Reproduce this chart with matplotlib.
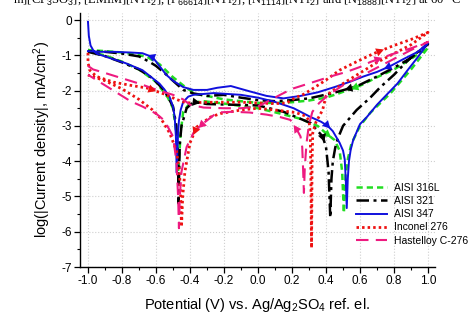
import matplotlib
matplotlib.use("Agg")
import matplotlib.pyplot as plt
from matplotlib.ticker import MultipleLocator, FormatStrFormatter

plt.rcParams['font.family'] = ['Liberation Sans', 'DejaVu Sans']
plt.rcParams['mathtext.fontset'] = 'custom'
plt.rcParams['mathtext.rm'] = 'Liberation Sans'
plt.rcParams['mathtext.it'] = 'Liberation Sans:italic'
plt.rcParams['axes.unicode_minus'] = False

# ---------------- data (potential V, log|i| mA/cm2), traced as scan loops ----------------
labels = ["AISI 316L", "AISI 321", "AISI 347", "Inconel 276", "Hastelloy C-276"]

e_316l = [-1.0, -0.95, -0.9, -0.8, -0.7, -0.6, -0.53, -0.5, -0.48, -0.472, -0.468, -0.464, -0.455, -0.44,
          -0.4, -0.32, -0.18, 0.0, 0.13, 0.25, 0.35, 0.41, 0.45, 0.48, 0.495, 0.505, 0.515, 0.53, 0.55, 0.6,
          0.66, 0.72, 0.78, 0.9, 1.0,
          0.9, 0.8, 0.7, 0.61, 0.48, 0.4, 0.3, 0.2, 0.1, 0.0, -0.1, -0.2, -0.28, -0.36, -0.42, -0.5, -0.58,
          -0.65, -0.72, -0.8, -0.9, -1.0]
logi_316l = [-0.87, -0.95, -1.0, -1.18, -1.4, -1.75, -2.2, -2.5, -3.2, -3.9, -4.45, -3.9, -3.2, -2.6,
             -2.35, -2.3, -2.38, -2.5, -2.65, -2.8, -3.0, -3.25, -3.4, -3.7, -4.3, -5.47, -4.4, -3.9, -3.5, -3.0,
             -2.63, -2.35, -2.07, -1.4, -0.78,
             -1.1, -1.4, -1.62, -1.84, -2.07, -2.2, -2.28, -2.33, -2.35, -2.35, -2.3, -2.25, -2.17, -2.1, -1.93,
             -1.62, -1.25, -1.05, -0.97, -0.92, -0.88, -0.85]

e_321 = [-1.0, -0.9, -0.8, -0.7, -0.62, -0.55, -0.5, -0.48, -0.47, -0.467, -0.464, -0.46, -0.45, -0.42,
         -0.38, -0.3, -0.15, 0.0, 0.15, 0.31, 0.38, 0.40, 0.415, 0.425, 0.432, 0.44, 0.455, 0.47, 0.5, 0.58,
         0.66, 0.72, 0.8, 0.88, 1.0,
         0.88, 0.8, 0.7, 0.58, 0.44, 0.3, 0.2, 0.1, 0.0, -0.1, -0.2, -0.3, -0.38, -0.44, -0.5, -0.55, -0.6,
         -0.64, -0.7, -0.8, -0.9, -1.0]
logi_321 = [-0.9, -1.02, -1.2, -1.4, -1.65, -2.0, -2.45, -3.0, -4.0, -5.2, -4.3, -3.5, -3.0, -2.5,
            -2.32, -2.38, -2.4, -2.42, -2.6, -2.92, -3.3, -3.6, -4.3, -5.6, -4.5, -4.0, -3.6, -3.35, -3.0, -2.55,
            -2.2, -1.9, -1.55, -1.15, -0.68,
            -1.13, -1.35, -1.6, -1.88, -2.07, -2.22, -2.27, -2.3, -2.27, -2.2, -2.12, -2.15, -2.08, -1.98, -1.72,
            -1.5, -1.3, -1.18, -1.03, -0.95, -0.9, -0.88]

e_347 = [-1.0, -0.995, -0.985, -0.97, -0.95, -0.87, -0.78, -0.68, -0.58, -0.55, -0.52, -0.50, -0.49, -0.483,
         -0.478, -0.474, -0.47, -0.465, -0.455, -0.44, -0.41, -0.38, -0.26, -0.10, 0.00, 0.10, 0.21, 0.31,
         0.37, 0.41, 0.44, 0.48, 0.50, 0.51, 0.516, 0.522, 0.528, 0.535, 0.545, 0.56, 0.60, 0.64, 0.70, 0.76,
         0.82, 0.88, 0.94, 1.00,
         0.94, 0.85, 0.78, 0.70, 0.62, 0.54, 0.45, 0.35, 0.25, 0.15, 0.05, -0.05, -0.16, -0.24, -0.30, -0.38,
         -0.44, -0.50, -0.54, -0.58, -0.62, -0.68, -0.75, -0.85, -0.93, -1.0]
logi_347 = [-0.05, -0.45, -0.72, -0.85, -0.95, -1.08, -1.22, -1.42, -1.8, -1.97, -2.18, -2.45, -2.75, -3.3,
            -4.33, -3.7, -3.2, -2.85, -2.55, -2.32, -2.17, -2.12, -2.07, -2.12, -2.2, -2.32, -2.5, -2.75,
            -2.88, -3.0, -3.15, -3.48, -3.7, -3.95, -4.5, -5.33, -4.5, -4.0, -3.68, -3.4, -2.95, -2.75, -2.4, -2.1,
            -1.8, -1.42, -1.05, -0.65,
            -0.9, -1.12, -1.3, -1.47, -1.6, -1.75, -1.9, -2.05, -2.15, -2.22, -2.15, -2.02, -1.87, -1.92, -1.98,
            -1.98, -1.9, -1.72, -1.55, -1.3, -1.05, -0.94, -0.92, -0.9, -0.9, -0.88]

e_in276 = [-1.0, -1.0, -0.99, -0.95, -0.85, -0.75, -0.65, -0.55, -0.48, -0.42, -0.3, -0.2, -0.1, 0.0, 0.1,
           0.17, 0.22, 0.27, 0.31, 0.4, 0.48, 0.58, 0.68, 0.8, 0.9, 1.0,
           0.9, 0.8, 0.7, 0.6, 0.5, 0.44, 0.4, 0.38, 0.34, 0.322, 0.318, 0.315, 0.31, 0.307, 0.30, 0.28, 0.22,
           0.1, 0.0, -0.1, -0.22, -0.28, -0.36, -0.4, -0.43, -0.443, -0.45, -0.455, -0.462, -0.48, -0.52,
           -0.57, -0.62, -0.7, -0.8, -0.9, -1.0]
logi_in276 = [-0.93, -1.2, -1.42, -1.6, -1.76, -1.85, -1.93, -2.1, -2.25, -2.35, -2.33, -2.33, -2.33, -2.35,
              -2.37, -2.35, -2.2, -2.1, -1.98, -1.7, -1.42, -1.18, -0.95, -0.72, -0.55, -0.35,
              -0.7, -0.95, -1.2, -1.5, -1.8, -2.0, -2.15, -2.55, -2.9, -3.2, -4.0, -6.46, -4.0, -3.2, -2.85,
              -2.72, -2.62, -2.55, -2.5, -2.55, -2.65, -2.75, -3.03, -3.48, -4.3, -5.0, -5.86, -5.0, -4.3,
              -3.7, -3.2, -2.8, -2.55, -2.25, -1.95, -1.72, -1.56]

e_c276 = [-1.0, -0.97, -0.9, -0.8, -0.7, -0.6, -0.5, -0.44, -0.4, -0.32, -0.2, -0.1, 0.0, 0.06, 0.13, 0.2,
          0.35, 0.44, 0.52, 0.6, 0.66, 0.8, 0.9, 1.0,
          0.9, 0.8, 0.7, 0.6, 0.5, 0.42, 0.36, 0.32, 0.3, 0.285, 0.275, 0.27, 0.265, 0.26, 0.25, 0.23, 0.19,
          0.13, 0.05, -0.05, -0.15, -0.24, -0.32, -0.38, -0.42, -0.45, -0.46, -0.465, -0.47, -0.48, -0.5,
          -0.55, -0.6, -0.68, -0.75, -0.85, -0.95, -1.0]
logi_c276 = [-1.3, -1.4, -1.5, -1.65, -1.8, -1.97, -2.12, -2.25, -2.4, -2.48, -2.5, -2.5, -2.45, -2.3, -2.12,
             -1.95, -1.72, -1.58, -1.47, -1.33, -1.19, -0.95, -0.8, -0.62,
             -0.85, -1.1, -1.35, -1.6, -1.85, -2.1, -2.35, -2.6, -2.95, -3.5, -4.2, -4.9, -4.2, -3.6, -3.3,
             -3.12, -2.83, -2.75, -2.68, -2.62, -2.6, -2.62, -2.92, -3.2, -3.6, -4.3, -5.0, -5.9, -5.0, -4.0,
             -3.3, -2.85, -2.65, -2.45, -2.3, -2.0, -1.7, -1.55]

xticks = [-1.0, -0.8, -0.6, -0.4, -0.2, 0.0, 0.2, 0.4, 0.6, 0.8, 1.0]
yticks = [0, -1, -2, -3, -4, -5, -6, -7]

# ---------------- styles ----------------
series = [
    (e_316l, logi_316l, dict(color='#22dd22', lw=1.8, dashes=(2.5, 1.6)), [21, 38]),
    (e_321, logi_321, dict(color='black', lw=1.8, dashes=(5, 1.8, 1.2, 1.8)), [14, 20, 38]),
    (e_347, logi_347, dict(color='#1010dd', lw=1.4, linestyle='-'), [29, 50, 68]),
    (e_in276, logi_in276, dict(color='#ee1111', lw=2.0, dashes=(0.9, 1.1)), [6, 22, 48]),
    (e_c276, logi_c276, dict(color='#ee1a80', lw=1.5, dashes=(6, 3.5)), [20, 39, 46]),
]

fig = plt.figure(figsize=(4.74, 3.24), dpi=100)
ax = fig.add_axes([80 / 474, 57 / 324, 355 / 474, 254 / 324])

for (e, l, st, arrows), lab in zip(series, labels):
    ax.plot(e, l, label=lab, **st)
    for i in arrows:
        mx = (e[i] + e[i + 1]) / 2
        my = (l[i] + l[i + 1]) / 2
        ax.annotate('', xy=(mx, my), xytext=(e[i], l[i]),
                    arrowprops=dict(arrowstyle='-|>,head_length=0.55,head_width=0.3',
                                    color=st['color'], lw=0.01, shrinkA=0, shrinkB=0,
                                    mutation_scale=10))

ax.set_xlim(-1.047, 1.041)
ax.set_ylim(-7, 0.2)
ax.set_xticks(xticks)
ax.set_yticks(yticks)
ax.xaxis.set_major_formatter(FormatStrFormatter('%.1f'))
ax.yaxis.set_major_formatter(FormatStrFormatter('%d'))
ax.xaxis.set_minor_locator(MultipleLocator(0.1))
ax.yaxis.set_minor_locator(MultipleLocator(0.5))
ax.tick_params(which='major', direction='out', length=4, width=0.9, labelsize=8.5, pad=2)
ax.tick_params(which='minor', direction='out', length=2.2, width=0.8)
for s in ['top', 'right']:
    ax.spines[s].set_visible(False)
for s in ['left', 'bottom']:
    ax.spines[s].set_linewidth(1.0)
ax.grid(True, which='major', color='#cfcfcf', linestyle=':', linewidth=0.8)
ax.set_axisbelow(True)

ax.set_xlabel('Potential (V) vs. Ag/Ag$_2$SO$_4$ ref. el.', fontsize=10.5, labelpad=6)
ax.set_ylabel('log(|Current density|, mA/cm$^2$)', fontsize=10.5, labelpad=6)

ax.legend(loc='lower right', bbox_to_anchor=(1.11, 0.06), frameon=False, fontsize=7.5,
          handlelength=3.0, handletextpad=0.6, labelspacing=0.3, borderaxespad=0.2)

fig.text(0.5, 1 - 3 / 324,
         'm][CF$_3$SO$_3$], [EMIM][NTf$_2$], [P$_{66614}$][NTf$_2$], [N$_{1114}$][NTf$_2$] and '
         '[N$_{1888}$][NTf$_2$] at 60 °C',
         ha='center', va='baseline', fontsize=9, family='Liberation Serif')

fig.savefig('out.png', dpi=100)
